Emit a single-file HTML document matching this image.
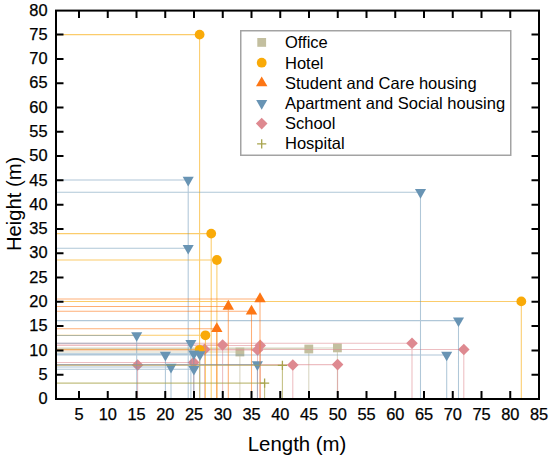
<!DOCTYPE html>
<html><head><meta charset="utf-8"><style>
html,body{margin:0;padding:0;background:#fff;}
body{width:550px;height:460px;overflow:hidden;}
svg{display:block;font-family:"Liberation Sans",sans-serif;}
</style></head><body>
<svg width="550" height="460" viewBox="0 0 550 460">
<path d="M56.00 352.00H239.90V399.00M56.00 349.00H308.80V399.00M56.00 347.90H337.40V399.00" stroke="#c3bf9f" stroke-opacity="0.65" stroke-width="1.05" fill="none"/>
<rect x="235.50" y="347.60" width="8.8" height="8.8" fill="#c3bf9f" fill-opacity="1"/>
<rect x="304.40" y="344.60" width="8.8" height="8.8" fill="#c3bf9f" fill-opacity="1"/>
<rect x="333.00" y="343.50" width="8.8" height="8.8" fill="#c3bf9f" fill-opacity="1"/>
<path d="M56.00 365.00H137.60V399.00M56.00 362.40H193.70V399.00M56.00 345.00H222.60V399.00M56.00 350.00H257.50V399.00M56.00 345.40H260.20V399.00M56.00 349.40H204.60V399.00M56.00 365.00H292.80V399.00M56.00 364.60H337.60V399.00M56.00 343.20H412.00V399.00M56.00 349.50H463.80V399.00" stroke="#de8990" stroke-opacity="0.55" stroke-width="1.05" fill="none"/>
<polygon points="137.60,359.20 143.40,365.00 137.60,370.80 131.80,365.00" fill="#de8990" fill-opacity="1"/>
<polygon points="193.70,356.60 199.50,362.40 193.70,368.20 187.90,362.40" fill="#de8990" fill-opacity="1"/>
<polygon points="222.60,339.20 228.40,345.00 222.60,350.80 216.80,345.00" fill="#de8990" fill-opacity="1"/>
<polygon points="257.50,344.20 263.30,350.00 257.50,355.80 251.70,350.00" fill="#de8990" fill-opacity="1"/>
<polygon points="260.20,339.60 266.00,345.40 260.20,351.20 254.40,345.40" fill="#de8990" fill-opacity="1"/>
<polygon points="204.60,343.60 210.40,349.40 204.60,355.20 198.80,349.40" fill="#de8990" fill-opacity="1"/>
<polygon points="292.80,359.20 298.60,365.00 292.80,370.80 287.00,365.00" fill="#de8990" fill-opacity="1"/>
<polygon points="337.60,358.80 343.40,364.60 337.60,370.40 331.80,364.60" fill="#de8990" fill-opacity="1"/>
<polygon points="412.00,337.40 417.80,343.20 412.00,349.00 406.20,343.20" fill="#de8990" fill-opacity="1"/>
<polygon points="463.80,343.70 469.60,349.50 463.80,355.30 458.00,349.50" fill="#de8990" fill-opacity="1"/>
<path d="M56.00 34.60H199.60V399.00M56.00 233.60H211.20V399.00M56.00 260.00H216.90V399.00M56.00 301.40H521.30V399.00M56.00 335.30H205.40V399.00M56.00 349.80H199.60V399.00" stroke="#f9aa08" stroke-opacity="0.6" stroke-width="1.05" fill="none"/>
<circle cx="199.60" cy="34.60" r="4.9" fill="#f9aa08" fill-opacity="1"/>
<circle cx="211.20" cy="233.60" r="4.9" fill="#f9aa08" fill-opacity="1"/>
<circle cx="216.90" cy="260.00" r="4.9" fill="#f9aa08" fill-opacity="1"/>
<circle cx="521.30" cy="301.40" r="4.9" fill="#f9aa08" fill-opacity="1"/>
<circle cx="205.40" cy="335.30" r="4.9" fill="#f9aa08" fill-opacity="1"/>
<circle cx="199.60" cy="349.80" r="4.9" fill="#f9aa08" fill-opacity="1"/>
<path d="M56.00 180.00H188.20V399.00M56.00 248.20H188.20V399.00M56.00 192.30H420.50V399.00M56.00 335.40H136.70V399.00M56.00 355.00H165.40V399.00M56.00 367.00H171.00V399.00M56.00 343.20H190.90V399.00M56.00 353.70H193.80V399.00M56.00 354.50H199.90V399.00M56.00 369.20H193.90V399.00M56.00 364.50H257.40V399.00M56.00 354.90H446.70V399.00M56.00 320.60H458.50V399.00" stroke="#6894b4" stroke-opacity="0.52" stroke-width="1.05" fill="none"/>
<polygon points="188.20,186.40 193.74,176.80 182.66,176.80" fill="#6894b4" fill-opacity="1"/>
<polygon points="188.20,254.60 193.74,245.00 182.66,245.00" fill="#6894b4" fill-opacity="1"/>
<polygon points="420.50,198.70 426.04,189.10 414.96,189.10" fill="#6894b4" fill-opacity="1"/>
<polygon points="136.70,341.80 142.24,332.20 131.16,332.20" fill="#6894b4" fill-opacity="1"/>
<polygon points="165.40,361.40 170.94,351.80 159.86,351.80" fill="#6894b4" fill-opacity="1"/>
<polygon points="171.00,373.40 176.54,363.80 165.46,363.80" fill="#6894b4" fill-opacity="1"/>
<polygon points="190.90,349.60 196.44,340.00 185.36,340.00" fill="#6894b4" fill-opacity="1"/>
<polygon points="193.80,360.10 199.34,350.50 188.26,350.50" fill="#6894b4" fill-opacity="1"/>
<polygon points="199.90,360.90 205.44,351.30 194.36,351.30" fill="#6894b4" fill-opacity="1"/>
<polygon points="193.90,375.60 199.44,366.00 188.36,366.00" fill="#6894b4" fill-opacity="1"/>
<polygon points="257.40,370.90 262.94,361.30 251.86,361.30" fill="#6894b4" fill-opacity="1"/>
<polygon points="446.70,361.30 452.24,351.70 441.16,351.70" fill="#6894b4" fill-opacity="1"/>
<polygon points="458.50,327.00 464.04,317.40 452.96,317.40" fill="#6894b4" fill-opacity="1"/>
<path d="M56.00 306.40H228.30V399.00M56.00 311.30H251.50V399.00M56.00 298.90H260.00V399.00M56.00 328.80H216.80V399.00" stroke="#fd7614" stroke-opacity="0.58" stroke-width="1.05" fill="none"/>
<polygon points="228.30,299.80 234.02,309.70 222.58,309.70" fill="#fd7614" fill-opacity="1"/>
<polygon points="251.50,304.70 257.22,314.60 245.78,314.60" fill="#fd7614" fill-opacity="1"/>
<polygon points="260.00,292.30 265.72,302.20 254.28,302.20" fill="#fd7614" fill-opacity="1"/>
<polygon points="216.80,322.20 222.52,332.10 211.08,332.10" fill="#fd7614" fill-opacity="1"/>
<path d="M56.00 383.10H264.60V399.00M56.00 365.30H282.40V399.00" stroke="#a8a44c" stroke-opacity="0.7" stroke-width="1.05" fill="none"/>
<path d="M260.00 383.10H269.20M264.60 378.50V387.70" stroke="#a8a44c" stroke-width="1.3" fill="none"/>
<path d="M277.80 365.30H287.00M282.40 360.70V369.90" stroke="#a8a44c" stroke-width="1.3" fill="none"/>
<path d="M79.00 399V391M79.00 10.6V18.1M107.75 399V391M107.75 10.6V18.1M136.50 399V391M136.50 10.6V18.1M165.25 399V391M165.25 10.6V18.1M194.00 399V391M194.00 10.6V18.1M222.75 399V391M222.75 10.6V18.1M251.50 399V391M251.50 10.6V18.1M280.25 399V391M280.25 10.6V18.1M309.00 399V391M309.00 10.6V18.1M337.75 399V391M337.75 10.6V18.1M366.50 399V391M366.50 10.6V18.1M395.25 399V391M395.25 10.6V18.1M424.00 399V391M424.00 10.6V18.1M452.75 399V391M452.75 10.6V18.1M481.50 399V391M481.50 10.6V18.1M510.25 399V391M510.25 10.6V18.1M56 374.71H63.5M539 374.71H531.5M56 350.42H63.5M539 350.42H531.5M56 326.12H63.5M539 326.12H531.5M56 301.83H63.5M539 301.83H531.5M56 277.54H63.5M539 277.54H531.5M56 253.25H63.5M539 253.25H531.5M56 228.95H63.5M539 228.95H531.5M56 204.66H63.5M539 204.66H531.5M56 180.37H63.5M539 180.37H531.5M56 156.07H63.5M539 156.07H531.5M56 131.78H63.5M539 131.78H531.5M56 107.49H63.5M539 107.49H531.5M56 83.20H63.5M539 83.20H531.5M56 58.90H63.5M539 58.90H531.5M56 34.61H63.5M539 34.61H531.5" stroke="#000" stroke-width="2" fill="none"/>
<rect x="56" y="10.6" width="483" height="388.4" stroke="#000" stroke-width="2" fill="none"/>
<g font-size="16.4" fill="#000" stroke="#000" stroke-width="0.25"><text x="47.6" y="404.20" text-anchor="end">0</text><text x="47.6" y="379.91" text-anchor="end">5</text><text x="47.6" y="355.62" text-anchor="end">10</text><text x="47.6" y="331.32" text-anchor="end">15</text><text x="47.6" y="307.03" text-anchor="end">20</text><text x="47.6" y="282.74" text-anchor="end">25</text><text x="47.6" y="258.44" text-anchor="end">30</text><text x="47.6" y="234.15" text-anchor="end">35</text><text x="47.6" y="209.86" text-anchor="end">40</text><text x="47.6" y="185.57" text-anchor="end">45</text><text x="47.6" y="161.27" text-anchor="end">50</text><text x="47.6" y="136.98" text-anchor="end">55</text><text x="47.6" y="112.69" text-anchor="end">60</text><text x="47.6" y="88.40" text-anchor="end">65</text><text x="47.6" y="64.10" text-anchor="end">70</text><text x="47.6" y="39.81" text-anchor="end">75</text><text x="47.6" y="15.52" text-anchor="end">80</text><text x="79.00" y="420.2" text-anchor="middle">5</text><text x="107.75" y="420.2" text-anchor="middle">10</text><text x="136.50" y="420.2" text-anchor="middle">15</text><text x="165.25" y="420.2" text-anchor="middle">20</text><text x="194.00" y="420.2" text-anchor="middle">25</text><text x="222.75" y="420.2" text-anchor="middle">30</text><text x="251.50" y="420.2" text-anchor="middle">35</text><text x="280.25" y="420.2" text-anchor="middle">40</text><text x="309.00" y="420.2" text-anchor="middle">45</text><text x="337.75" y="420.2" text-anchor="middle">50</text><text x="366.50" y="420.2" text-anchor="middle">55</text><text x="395.25" y="420.2" text-anchor="middle">60</text><text x="424.00" y="420.2" text-anchor="middle">65</text><text x="452.75" y="420.2" text-anchor="middle">70</text><text x="481.50" y="420.2" text-anchor="middle">75</text><text x="510.25" y="420.2" text-anchor="middle">80</text><text x="539.00" y="420.2" text-anchor="middle">85</text></g>
<text x="297.1" y="451" font-size="20.4" text-anchor="middle">Length (m)</text>
<text transform="translate(21.3 203.9) rotate(-90)" font-size="20.2" text-anchor="middle">Height (m)</text>
<rect x="240.75" y="30.75" width="270" height="124.5" fill="#fff" stroke="#a3a3a3" stroke-width="1.5"/><rect x="257.30" y="38.00" width="8.8" height="8.8" fill="#c3bf9f" fill-opacity="1"/><text x="285.0" y="48.40" font-size="16.5">Office</text><circle cx="261.70" cy="62.70" r="4.9" fill="#f9aa08" fill-opacity="1"/><text x="285.0" y="68.60" font-size="16.5">Hotel</text><polygon points="261.70,76.40 267.42,86.30 255.98,86.30" fill="#fd7614" fill-opacity="1"/><text x="285.0" y="88.80" font-size="16.5">Student and Care housing</text><polygon points="261.70,109.70 267.24,100.10 256.16,100.10" fill="#6894b4" fill-opacity="1"/><text x="285.0" y="109.00" font-size="16.5">Apartment and Social housing</text><polygon points="261.70,117.80 267.50,123.60 261.70,129.40 255.90,123.60" fill="#de8990" fill-opacity="1"/><text x="285.0" y="129.20" font-size="16.5">School</text><path d="M257.10 143.90H266.30M261.70 139.30V148.50" stroke="#a8a44c" stroke-width="1.3" fill="none"/><text x="285.0" y="149.40" font-size="16.5">Hospital</text>
</svg>
</body></html>
